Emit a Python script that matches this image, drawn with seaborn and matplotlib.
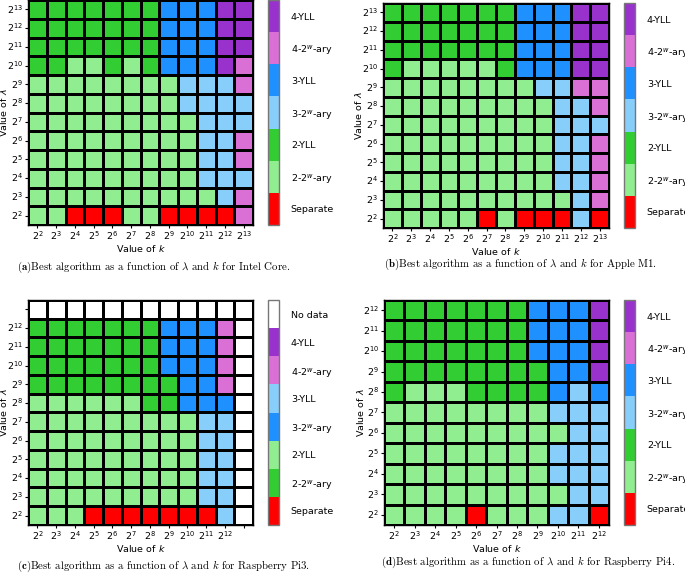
import numpy as np
import pandas as pd
import matplotlib
matplotlib.use("Agg")
import matplotlib.pyplot as plt
import seaborn as sns
from matplotlib.colors import ListedColormap

# colour bar categories (bottom to top)
algos = ["Separate", "2-$2^w$-ary", "2-YLL", "3-$2^w$-ary", "3-YLL", "4-$2^w$-ary", "4-YLL"]
algo_colors = ["#ff0000", "#90ee90", "#32cd32", "#87cefa", "#1e90ff", "#da70d6", "#9932cc"]

# the Pi3 plot has an extra "No data" class and its shades are swapped
algos_pi3 = algos + ["No data"]
colors_pi3 = ["#ff0000", "#32cd32", "#90ee90", "#1e90ff", "#87cefa", "#da70d6", "#9932cc", "#ffffff"]

# best algorithm per cell, rows from largest lambda (top) to 2^2 (bottom)
intel = ["222222244466",
         "222222244466",
         "222222244466",
         "221121244465",
         "111111113335",
         "111111113333",
         "111111111333",
         "111111111335",
         "111111111335",
         "111111111333",
         "111111111135",
         "110001100005"]

m1 = ["222222244466",
      "222222244466",
      "222222244466",
      "211111244466",
      "111111113355",
      "111111111335",
      "111111111333",
      "111111111335",
      "111111111335",
      "111111111335",
      "111111111135",
      "111110100030"]

pi3 = ["777777777777",
       "111111133357",
       "111111133357",
       "111111133357",
       "111111113357",
       "222222113337",
       "222222222447",
       "222222222447",
       "222222222447",
       "222222222447",
       "222222222447",
       "222000000047"]

pi4 = ["22222224446",
       "22222224446",
       "22222224446",
       "22222222446",
       "21112222434",
       "11111111333",
       "11111111133",
       "11111111333",
       "11111111333",
       "11111111133",
       "11110111330"]

exp13 = list(range(2, 14))
exp12 = list(range(2, 13))

captions = ["Best algorithm as a function of $\\lambda$ and $k$ for Intel Core.",
            "Best algorithm as a function of $\\lambda$ and $k$ for Apple M1.",
            "Best algorithm as a function of $\\lambda$ and $k$ for Raspberry Pi3.",
            "Best algorithm as a function of $\\lambda$ and $k$ for Raspberry Pi4."]
tags = ["(a)", "(b)", "(c)", "(d)"]

FS = 6.8


def pow_labels(exps):
    return [f"$2^{{{e}}}$" if e is not None else "" for e in exps]


W, H = 685, 575
fig = plt.figure(figsize=(W / 100, H / 100), dpi=100)


def px_axes(x0, y0, x1, y1):
    return fig.add_axes([x0 / W, 1 - y1 / H, (x1 - x0) / W, (y1 - y0) / H])


def draw(box, cbox, rows, kexp, lexp, labels, colors):
    grid = np.array([[int(c) for c in r] for r in rows])
    data = pd.DataFrame(grid, index=pow_labels(lexp[::-1]), columns=pow_labels(kexp))
    ax = px_axes(*box)
    cax = px_axes(*cbox)
    n = len(colors)
    sns.heatmap(data, ax=ax, cbar_ax=cax, cmap=ListedColormap(colors),
                vmin=-0.5, vmax=n - 0.5, linewidths=1, linecolor="black")
    for s in ax.spines.values():
        s.set_visible(True)
        s.set_color("black")
        s.set_linewidth(1)
    ax.tick_params(labelsize=FS, length=2, pad=1.5)
    ax.set_xticklabels(ax.get_xticklabels(), rotation=0)
    ax.set_yticklabels(ax.get_yticklabels(), rotation=0)
    ax.set_xlabel("Value of $k$", fontsize=FS, labelpad=0.5)
    ax.set_ylabel("Value of $\\lambda$", fontsize=FS)
    ax.yaxis.set_label_coords(-18.5 / (box[2] - box[0]), 0.5)
    cb = ax.collections[0].colorbar
    cb.set_ticks(range(n))
    cb.set_ticklabels(labels)
    cb.ax.tick_params(length=0, pad=8.5, labelsize=FS)
    cb.outline.set_edgecolor("#777777")
    cb.outline.set_linewidth(1)
    return ax


draw((28, 0, 253, 225), (268, 0, 279, 225), intel, exp13, exp13, algos, algo_colors)
draw((383, 3, 609, 228), (624, 3, 635, 228), m1, exp13, exp13, algos, algo_colors)
draw((28, 300, 253, 525), (268, 300, 279, 525), pi3, exp12 + [None], exp12 + [None],
     algos_pi3, colors_pi3)
draw((384, 300, 609, 525), (624, 300, 635, 525), pi4, exp12, exp12, algos, algo_colors)

cap_pos = [(17, 267), (384, 264), (17, 566), (381, 562)]
for (x, y), tag, cap in zip(cap_pos, tags, captions):
    fig.text(x / W, 1 - y / H, f"$\\mathbf{{{tag}}}$" + cap, family="cmr10",
             math_fontfamily="cm", fontsize=7.8, va="center", ha="left")

fig.savefig("out.png", dpi=100)
